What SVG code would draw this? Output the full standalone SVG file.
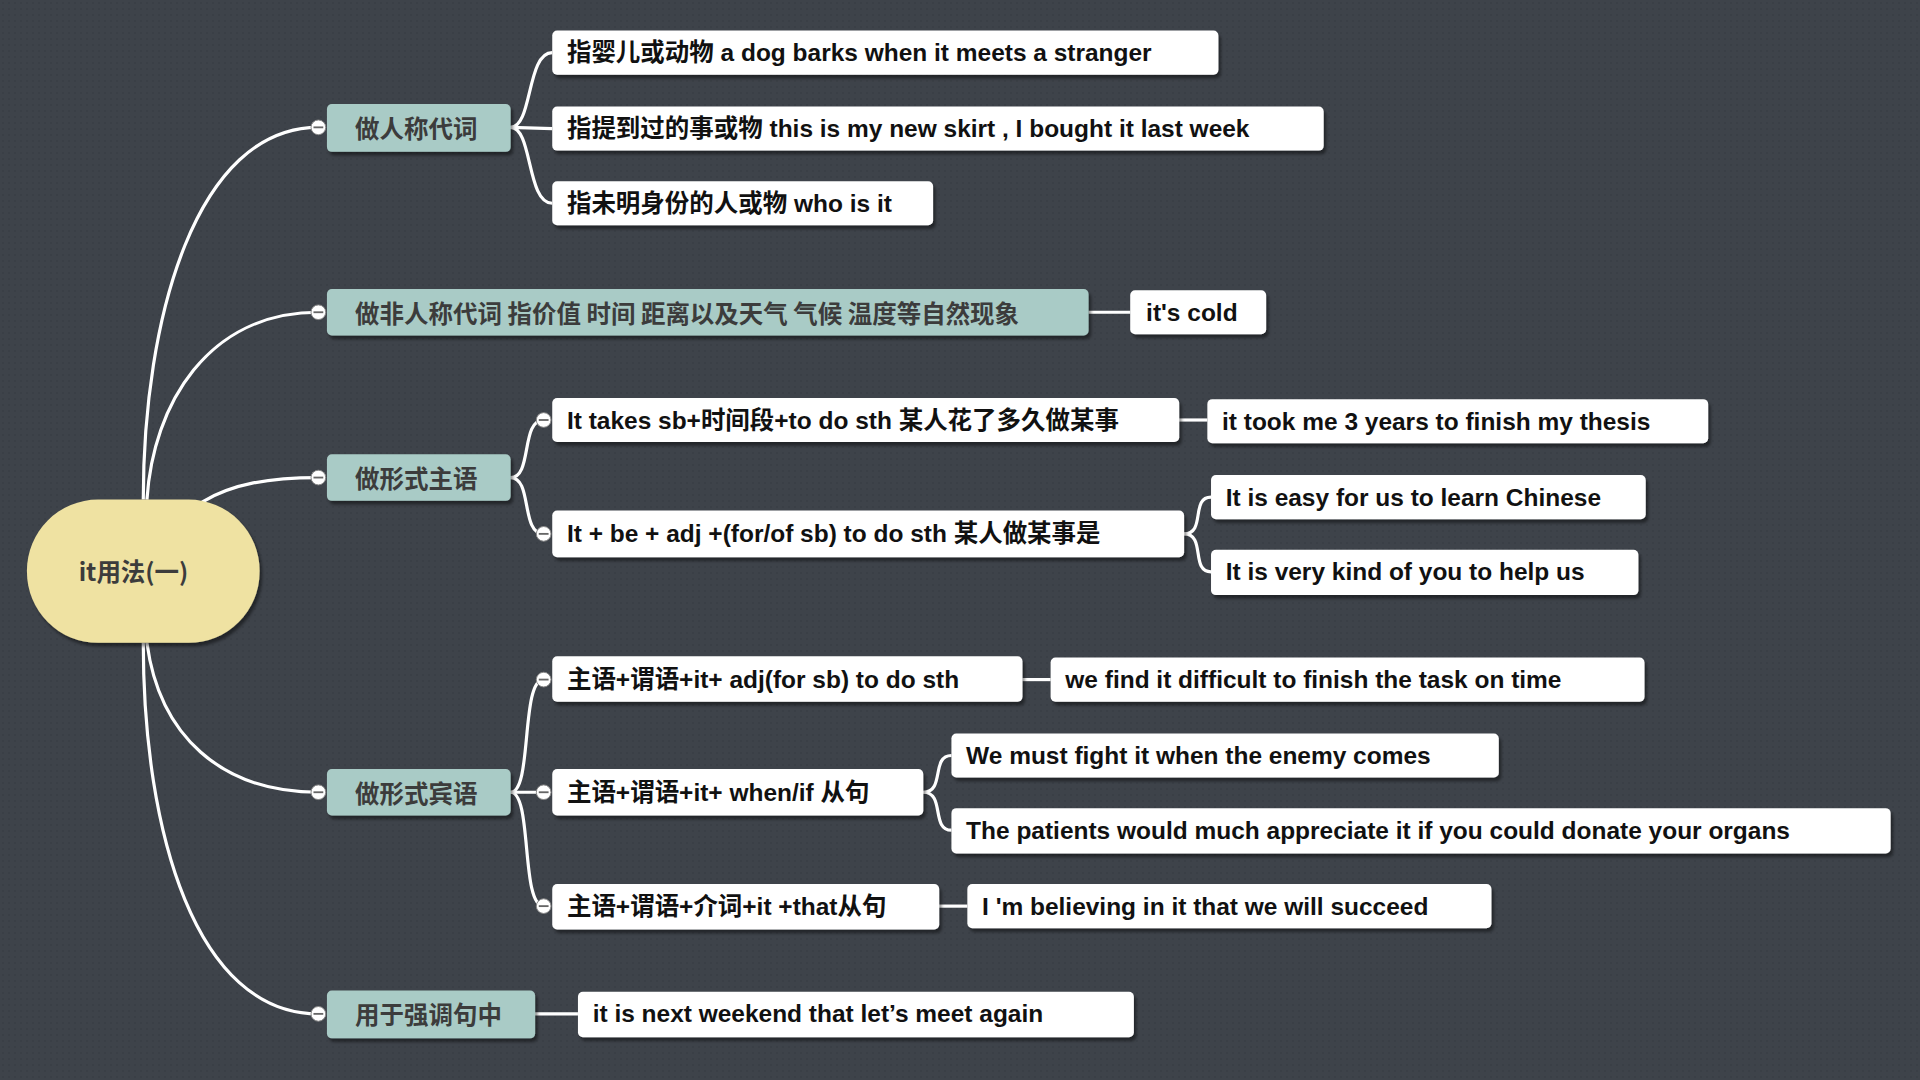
<svg xmlns="http://www.w3.org/2000/svg" width="1920" height="1080" viewBox="0 0 1920 1080">
<defs>
<pattern id="dots" width="6" height="6" patternUnits="userSpaceOnUse"><rect width="6" height="6" fill="#3e434a"/><circle cx="3" cy="3" r="0.8" fill="#353a40"/></pattern>
<filter id="sh" x="-10%" y="-20%" width="120%" height="160%"><feDropShadow dx="2" dy="3" stdDeviation="1.5" flood-color="#000" flood-opacity="0.45"/></filter>
<style>
.l1{fill:#a9cbc6;filter:url(#sh)}
.w{fill:#fff;filter:url(#sh)}
.t1{font-family:"Noto Sans CJK SC","Liberation Sans",sans-serif;font-size:20px;font-weight:bold;fill:#3c3c3c;dominant-baseline:central}
.t2{font-family:"Liberation Sans","Noto Sans CJK SC",sans-serif;font-size:20px;font-weight:bold;fill:#111;dominant-baseline:central}
.c path{fill:none;stroke:#fff;stroke-width:2.6}
.k circle{fill:#fff;stroke:#888;stroke-width:0.8}
.k line{stroke:#666;stroke-width:1.5}
</style>
</defs>
<rect width="1920" height="1080" fill="url(#dots)"/>
<g transform="scale(1.22449)">
<g class="c" id="connectors">
<path d="M117,408 C117,260 160,104 260,104"/>
<path d="M120,408 C125,330 170,255 260,255"/>
<path d="M165,410 C190,395 220,390 260,390"/>
<path d="M120,525 C130,600 180,647 260,647"/>
<path d="M117,525 C117,680 160,828 260,828"/>
<path d="M417,104 C435,104 430,43 451,43"/>
<path d="M417,104 L451,105"/>
<path d="M417,104 C435,104 430,166 451,166"/>
<path d="M889,255 L923,255"/>
<path d="M417,390 C435,390 425,343 444,343"/>
<path d="M417,390 C435,390 425,436 444,436"/>
<path d="M963,343 L986,343"/>
<path d="M967,436 C985,436 972,406 989,406"/>
<path d="M967,436 C985,436 972,467 989,467"/>
<path d="M417,647 C435,647 425,555 444,555"/>
<path d="M417,647 L444,647"/>
<path d="M417,647 C435,647 425,740 444,740"/>
<path d="M835,555 L858,555"/>
<path d="M754,647 C772,647 760,617 777,617"/>
<path d="M754,647 C772,647 760,678 777,678"/>
<path d="M767,740 L790,740"/>
<path d="M437,828 L472,828"/>
</g>
<g id="root"><rect x="22" y="408" width="190" height="117" rx="58" fill="#efe2a2" filter="url(#sh)"/><text x="109" y="466" text-anchor="middle" class="t1" style="font-size:20px">it用法(一)</text></g>
<g id="n1"><rect class="l1" x="267" y="85" width="150" height="39" rx="4"/><text class="t1" x="290" y="104">做人称代词</text></g>
<g id="n2"><rect class="l1" x="267" y="236" width="622" height="38" rx="4"/><text class="t1" x="290" y="255">做非人称代词 指价值 时间 距离以及天气 气候 温度等自然现象</text></g>
<g id="n3"><rect class="l1" x="267" y="371" width="150" height="38" rx="4"/><text class="t1" x="290" y="390">做形式主语</text></g>
<g id="n4"><rect class="l1" x="267" y="628" width="150" height="38" rx="4"/><text class="t1" x="290" y="647">做形式宾语</text></g>
<g id="n5"><rect class="l1" x="267" y="809" width="170" height="39" rx="4"/><text class="t1" x="290" y="828">用于强调句中</text></g>
<g id="a1"><rect class="w" x="451" y="25" width="544" height="36" rx="4"/><text class="t2" x="463" y="43">指婴儿或动物 a dog barks when it meets a stranger</text></g>
<g id="a2"><rect class="w" x="451" y="87" width="630" height="36" rx="4"/><text class="t2" x="463" y="105">指提到过的事或物 this is my new skirt , I bought it last week</text></g>
<g id="a3"><rect class="w" x="451" y="148" width="311" height="36" rx="4"/><text class="t2" x="463" y="166">指未明身份的人或物 who is it</text></g>
<g id="b1"><rect class="w" x="923" y="237" width="111" height="36" rx="4"/><text class="t2" x="936" y="255">it's cold</text></g>
<g id="c1"><rect class="w" x="451" y="325" width="512" height="36" rx="4"/><text class="t2" x="463" y="343">It takes sb+时间段+to do sth 某人花了多久做某事</text></g>
<g id="c1a"><rect class="w" x="986" y="326" width="409" height="36" rx="4"/><text class="t2" x="998" y="344">it took me 3 years to finish my thesis</text></g>
<g id="c2"><rect class="w" x="451" y="417" width="516" height="38" rx="4"/><text class="t2" x="463" y="436">It + be + adj +(for/of sb) to do sth 某人做某事是</text></g>
<g id="c2a"><rect class="w" x="989" y="388" width="355" height="36" rx="4"/><text class="t2" x="1001" y="406">It is easy for us to learn Chinese</text></g>
<g id="c2b"><rect class="w" x="989" y="449" width="349" height="37" rx="4"/><text class="t2" x="1001" y="467">It is very kind of you to help us</text></g>
<g id="d1"><rect class="w" x="451" y="536" width="384" height="37" rx="4"/><text class="t2" x="463" y="555">主语+谓语+it+ adj(for sb) to do sth</text></g>
<g id="d1a"><rect class="w" x="858" y="537" width="485" height="36" rx="4"/><text class="t2" x="870" y="555">we find it difficult to finish the task on time</text></g>
<g id="d2"><rect class="w" x="451" y="628" width="303" height="38" rx="4"/><text class="t2" x="463" y="647">主语+谓语+it+ when/if 从句</text></g>
<g id="d2a"><rect class="w" x="777" y="599" width="447" height="36" rx="4"/><text class="t2" x="789" y="617">We must fight it when the enemy comes</text></g>
<g id="d2b"><rect class="w" x="777" y="660" width="767" height="37" rx="4"/><text class="t2" x="789" y="678">The patients would much appreciate it if you could donate your organs</text></g>
<g id="d3"><rect class="w" x="451" y="722" width="316" height="37" rx="4"/><text class="t2" x="463" y="740">主语+谓语+介词+it +that从句</text></g>
<g id="d3a"><rect class="w" x="790" y="722" width="428" height="36" rx="4"/><text class="t2" x="802" y="740">I 'm believing in it that we will succeed</text></g>
<g id="e1"><rect class="w" x="472" y="810" width="454" height="37" rx="4"/><text class="t2" x="484" y="828">it is next weekend that let’s meet again</text></g>
<g class="k" id="toggles">
<circle cx="260" cy="104" r="6"/><line x1="256" y1="104" x2="264" y2="104"/>
<circle cx="260" cy="255" r="6"/><line x1="256" y1="255" x2="264" y2="255"/>
<circle cx="260" cy="390" r="6"/><line x1="256" y1="390" x2="264" y2="390"/>
<circle cx="260" cy="647" r="6"/><line x1="256" y1="647" x2="264" y2="647"/>
<circle cx="260" cy="828" r="6"/><line x1="256" y1="828" x2="264" y2="828"/>
<circle cx="444" cy="343" r="6"/><line x1="440" y1="343" x2="448" y2="343"/>
<circle cx="444" cy="436" r="6"/><line x1="440" y1="436" x2="448" y2="436"/>
<circle cx="444" cy="555" r="6"/><line x1="440" y1="555" x2="448" y2="555"/>
<circle cx="444" cy="647" r="6"/><line x1="440" y1="647" x2="448" y2="647"/>
<circle cx="444" cy="740" r="6"/><line x1="440" y1="740" x2="448" y2="740"/>
</g>
</g>
</svg>
